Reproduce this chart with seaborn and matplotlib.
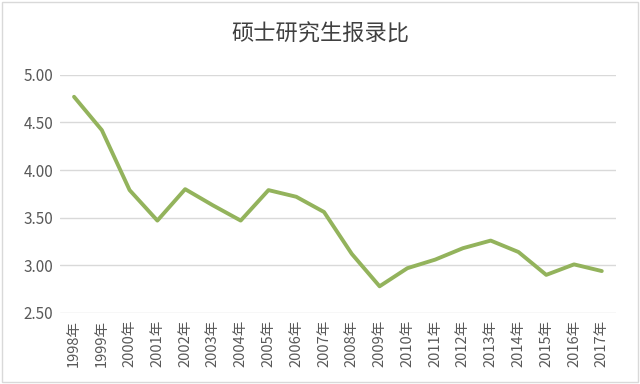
import matplotlib
matplotlib.use("Agg")
import matplotlib.pyplot as plt
import seaborn as sns
import pandas as pd
from matplotlib.patches import Rectangle

# Data
years = [f"{y}年" for y in range(1998, 2018)]
ratios = [4.77, 4.42, 3.79, 3.47, 3.80, 3.63, 3.47, 3.79, 3.72, 3.56,
          3.12, 2.78, 2.97, 3.06, 3.18, 3.26, 3.14, 2.90, 3.01, 2.94]
yticks = [2.5, 3.0, 3.5, 4.0, 4.5, 5.0]

df = pd.DataFrame({"year": years, "ratio": ratios})

sns.set_theme(style="white")
plt.rcParams['font.family'] = ['Noto Sans CJK SC', 'DejaVu Sans']

fig = plt.figure(figsize=(6.4, 3.84), dpi=100)
ax = fig.add_axes([0.094, 0.185, 0.868, 0.62])

sns.lineplot(data=df, x="year", y="ratio", ax=ax, color="#93b35c",
             linewidth=2.8, sort=False)

ax.set_ylim(2.5, 5.0)
ax.set_xlim(-0.5, len(years) - 0.5)
ax.set_yticks(yticks)
ax.set_yticklabels([f"{v:.2f}" for v in yticks], fontsize=11, color="#595959")
ax.set_xticks(range(len(years)))
ax.set_xticklabels(years, rotation=90, fontsize=10.5, color="#595959")
ax.tick_params(axis="both", length=0, pad=5)
ax.yaxis.grid(True, color="#d9d9d9", linewidth=1)
for s in ax.spines.values():
    s.set_visible(False)
ax.set_xlabel("")
ax.set_ylabel("")

fig.text(0.5, 0.91, "硕士研究生报录比", ha="center", va="center",
         fontsize=16, color="#404040")

# light outer frame
fig.patches.append(Rectangle((0.003, 0.005), 0.994, 0.99, transform=fig.transFigure,
                             fill=False, edgecolor="#d9d9d9", linewidth=1))

fig.savefig("out.png", dpi=100)
